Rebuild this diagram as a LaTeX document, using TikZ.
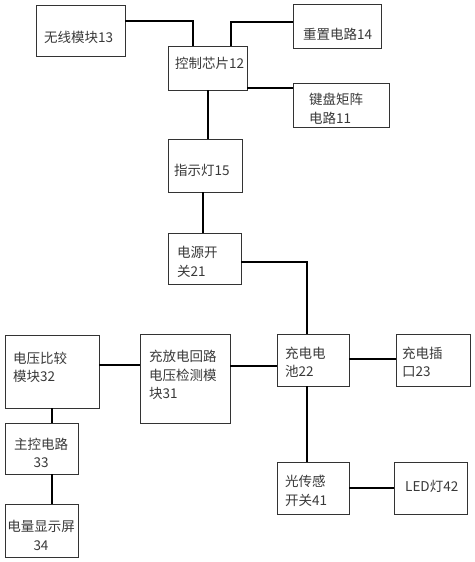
\documentclass[tikz,border=0pt]{standalone}
\usepackage{fontspec}
\newfontfamily\cjk{Noto Sans CJK SC}
\begin{document}
\begin{tikzpicture}[x=1pt,y=-1pt,
  box/.style={draw=black!80, line width=0.9pt, inner sep=0pt, outer sep=0pt, anchor=north west, fill=none},
  lbl/.style={font=\cjk\fontsize{13.5}{18.5}\selectfont, text=black!78, inner sep=0pt, anchor=west, align=left},
  clbl/.style={lbl, anchor=center, align=center},
  conn/.style={line width=2.8pt, black}]
\useasboundingbox (0,0) rectangle (474,562);
% boxes
\node[box, minimum width=89pt, minimum height=51pt] (n13) at (36,5) {};
\node[box, minimum width=79pt, minimum height=44pt] (n12) at (168,46) {};
\node[box, minimum width=88pt, minimum height=44pt] (n14) at (293,4) {};
\node[box, minimum width=96pt, minimum height=44pt] (n11) at (293,83) {};
\node[box, minimum width=74pt, minimum height=53pt] (n15) at (168,139) {};
\node[box, minimum width=73pt, minimum height=51pt] (n21) at (168,233) {};
\node[box, minimum width=94pt, minimum height=73pt] (n32) at (5,335) {};
\node[box, minimum width=90pt, minimum height=89pt] (n31) at (140,334) {};
\node[box, minimum width=72pt, minimum height=52pt] (n22) at (277,334) {};
\node[box, minimum width=74pt, minimum height=52pt] (n23) at (396,334) {};
\node[box, minimum width=73pt, minimum height=51pt] (n33) at (5,423) {};
\node[box, minimum width=73pt, minimum height=53pt] (n34) at (5,504) {};
\node[box, minimum width=72pt, minimum height=52pt] (n41) at (277,462) {};
\node[box, minimum width=73pt, minimum height=52pt] (n42) at (394,462) {};
% labels
\node[lbl] (t13) at (44,37) {无线模块13};
\node[lbl] (t12) at (175,63) {控制芯片12};
\node[lbl] (t14) at (303,34) {重置电路14};
\node[lbl] (t11) at (309,109) {键盘矩阵\\电路11};
\node[lbl] (t15) at (174,170) {指示灯15};
\node[lbl] (t21) at (177,262) {电源开\\关21};
\node[lbl] (t32) at (13,367.5) {电压比较\\模块32};
\node[lbl] (t31) at (149,375) {充放电回路\\电压检测模\\块31};
\node[lbl] (t22) at (285,362.5) {充电电\\池22};
\node[lbl] (t23) at (402,362) {充电插\\口23};
\node[clbl] (t33) at (41,453) {主控电路\\33};
\node[clbl] (t34) at (41,535.5) {电量显示屏\\34};
\node[lbl] (t41) at (285,491) {光传感\\开关41};
\node[lbl] (t42) at (405,486) {LED灯42};
% connectors
\draw[conn] (n13.east |- 0,21) -| (n12.north -| 193,0);
\draw[conn] (n12.north -| 231,0) |- (n14.west |- 0,22);
\draw[conn] (n12.east |- 0,88) -- (n11.west |- 0,88);
\draw[conn] (n12.south -| 208,0) -- (n15.north -| 208,0);
\draw[conn] (n15.south -| 203,0) -- (n21.north -| 203,0);
\draw[conn] (n21.east |- 0,262) -| (n22.north -| 307,0);
\draw[conn] (n32.east |- 0,365) -- (n31.west |- 0,365);
\draw[conn] (n31.east |- 0,366) -- (n22.west |- 0,366);
\draw[conn] (n22.east |- 0,359) -- (n23.west |- 0,359);
\draw[conn] (n22.south -| 307,0) -- (n41.north -| 307,0);
\draw[conn] (n41.east |- 0,488) -- (n42.west |- 0,488);
\draw[conn] (n32.south -| 52,0) -- (n33.north -| 52,0);
\draw[conn] (n33.south -| 52,0) -- (n34.north -| 52,0);
\end{tikzpicture}
\end{document}
